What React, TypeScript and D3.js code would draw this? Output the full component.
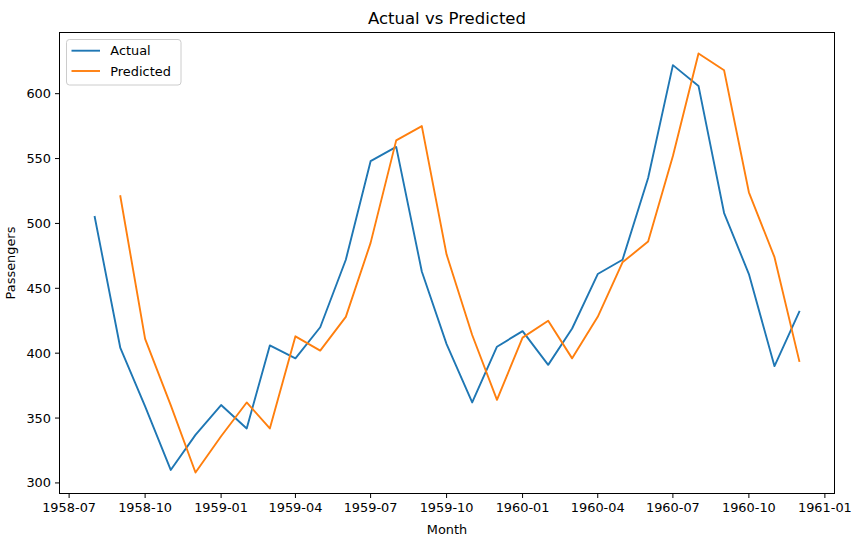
import React from "react";
import * as d3 from "d3";

const months = [
  "1958-08", "1958-09", "1958-10", "1958-11", "1958-12",
  "1959-01", "1959-02", "1959-03", "1959-04", "1959-05", "1959-06",
  "1959-07", "1959-08", "1959-09", "1959-10", "1959-11", "1959-12",
  "1960-01", "1960-02", "1960-03", "1960-04", "1960-05", "1960-06",
  "1960-07", "1960-08", "1960-09", "1960-10", "1960-11", "1960-12",
];

const actual = [
  505, 404, 359, 310, 337,
  360, 342, 406, 396, 420, 472, 548, 559, 463, 407, 362, 405,
  417, 391, 419, 461, 472, 535, 622, 606, 508, 461, 390, 432,
];

// predicted starts one month later (1958-09)
const predictedMonths = months.slice(1);
const predicted = [
  521, 411, 360, 308,
  336, 362, 342, 413, 402, 428, 485, 564, 575, 476, 414, 364,
  412, 425, 396, 428, 470, 486, 552, 631, 618, 524, 474, 394,
];

const xTickLabels = ["1958-07", "1958-10", "1959-01", "1959-04", "1959-07", "1959-10", "1960-01", "1960-04", "1960-07", "1960-10", "1961-01"];
const yTicks = [300, 350, 400, 450, 500, 550, 600];

const W = 859, H = 543;
const M = { left: 59.5, right: 834.5, top: 32.5, bottom: 493.5 };
const FONT = "DejaVu Sans, sans-serif";
const FS = 12.9;

const parse = d3.timeParse("%Y-%m");

export default function App() {
  const allDates = months.map((m) => parse(m) as Date);
  const t0 = +allDates[0], t1 = +allDates[allDates.length - 1];
  const pad = (t1 - t0) * 0.05;
  const x = d3.scaleTime().domain([new Date(t0 - pad), new Date(t1 + pad)]).range([M.left, M.right]);

  const allVals = actual.concat(predicted);
  const vmin = d3.min(allVals) as number, vmax = d3.max(allVals) as number;
  const vpad = (vmax - vmin) * 0.05;
  const y = d3.scaleLinear().domain([vmin - vpad, vmax + vpad]).range([M.bottom, M.top]);

  const line = d3.line<[Date, number]>().x((d) => x(d[0])).y((d) => y(d[1]));
  const actualPts: [Date, number][] = months.map((m, i) => [parse(m) as Date, actual[i]]);
  const predPts: [Date, number][] = predictedMonths.map((m, i) => [parse(m) as Date, predicted[i]]);

  return (
    <svg width={W} height={H} style={{ position: "absolute", left: 0, top: 0, background: "#fff" }} fontFamily={FONT}>
      <rect x={0} y={0} width={W} height={H} fill="#fff" />
      <clipPath id="clip">
        <rect x={M.left} y={M.top} width={M.right - M.left} height={M.bottom - M.top} />
      </clipPath>
      <g clipPath="url(#clip)">
        <path d={line(actualPts) || ""} fill="none" stroke="#1f77b4" strokeWidth={1.9} strokeLinejoin="round" strokeLinecap="square" />
        <path d={line(predPts) || ""} fill="none" stroke="#ff7f0e" strokeWidth={1.9} strokeLinejoin="round" strokeLinecap="square" />
      </g>
      <rect x={M.left} y={M.top} width={M.right - M.left} height={M.bottom - M.top} fill="none" stroke="#000" strokeWidth={1} />
      {xTickLabels.map((lab) => {
        const xx = x(parse(lab) as Date);
        return (
          <g key={lab}>
            <line x1={xx} x2={xx} y1={M.bottom} y2={M.bottom + 4.5} stroke="#000" strokeWidth={1} />
            <text x={xx} y={M.bottom + 18.5} textAnchor="middle" fontSize={FS} fill="#000">{lab}</text>
          </g>
        );
      })}
      {yTicks.map((v) => {
        const yy = y(v);
        return (
          <g key={v}>
            <line x1={M.left - 4.5} x2={M.left} y1={yy} y2={yy} stroke="#000" strokeWidth={1} />
            <text x={M.left - 8.5} y={yy} dy="0.35em" textAnchor="end" fontSize={FS} fill="#000">{v}</text>
          </g>
        );
      })}
      <text x={(M.left + M.right) / 2} y={24} textAnchor="middle" fontSize={16.5} fill="#000">Actual vs Predicted</text>
      <text x={(M.left + M.right) / 2} y={534} textAnchor="middle" fontSize={FS} fill="#000">Month</text>
      <text transform={`translate(15,${(M.top + M.bottom) / 2}) rotate(-90)`} textAnchor="middle" fontSize={FS} fill="#000">Passengers</text>
      <g>
        <rect x={66.5} y={39.5} width={114.5} height={45.5} rx={3} fill="#fff" fillOpacity={0.8} stroke="#cccccc" strokeWidth={1} />
        <line x1={71.5} x2={100} y1={50.7} y2={50.7} stroke="#1f77b4" strokeWidth={1.9} />
        <text x={110.3} y={50.7} dy="0.35em" fontSize={FS} fill="#000">Actual</text>
        <line x1={71.5} x2={100} y1={71} y2={71} stroke="#ff7f0e" strokeWidth={1.9} />
        <text x={110.3} y={71} dy="0.35em" fontSize={FS} fill="#000">Predicted</text>
      </g>
    </svg>
  );
}
